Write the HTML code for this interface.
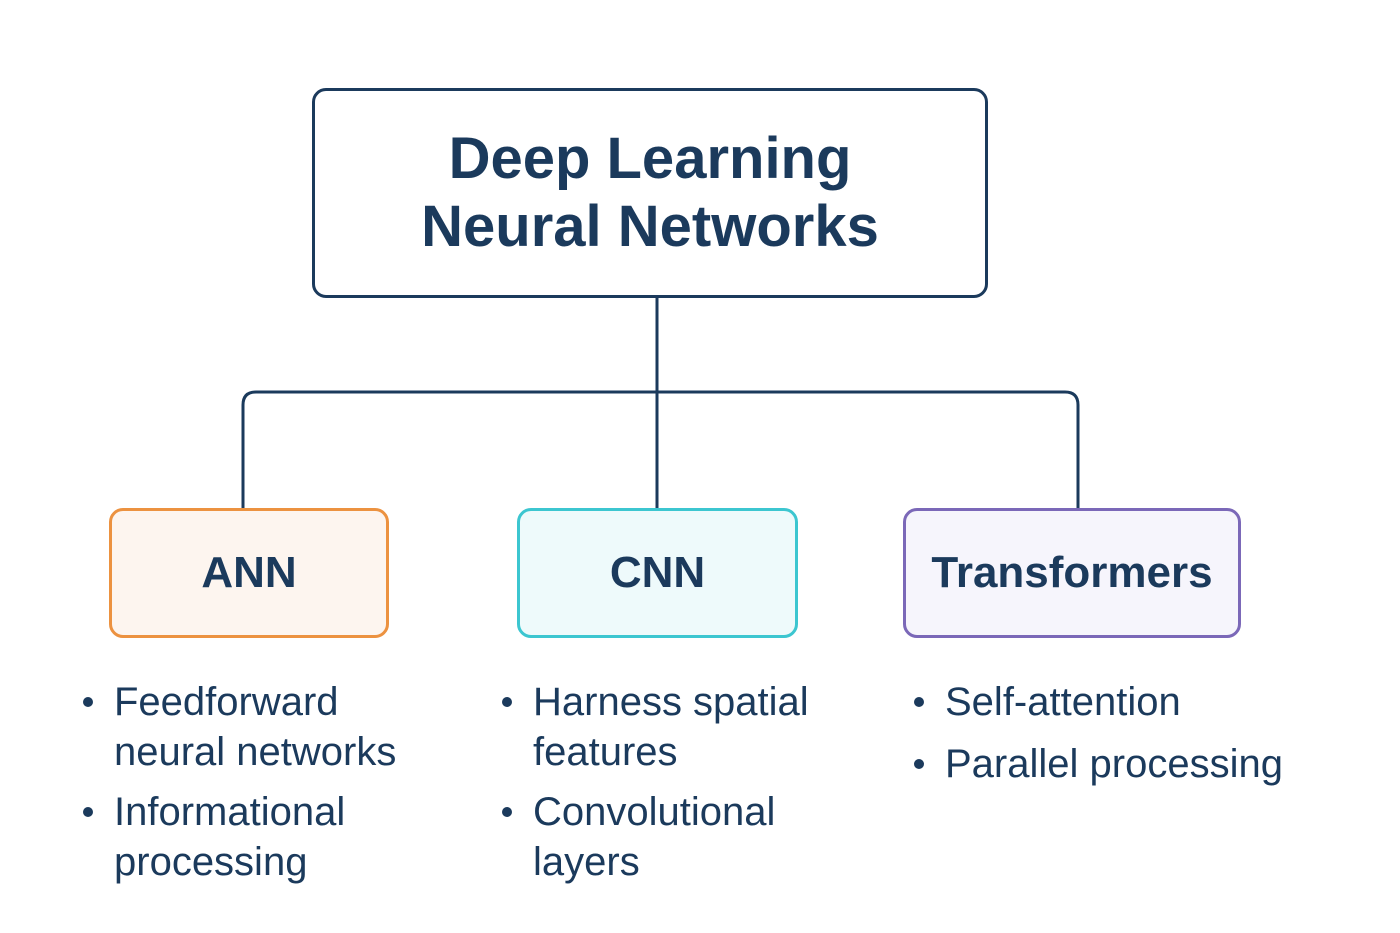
<!DOCTYPE html>
<html><head><style>
body{margin:0;width:1400px;height:933px;background:#fff;position:relative;font-family:"Liberation Sans",sans-serif;color:#1b3a5c;overflow:hidden}
.box{position:absolute;box-sizing:border-box;border-radius:14px;display:flex;align-items:center;justify-content:center;font-weight:bold}
.t{position:absolute;font-size:40px;line-height:50px;white-space:nowrap}
.d{position:absolute;width:10px;height:10px;border-radius:50%;background:#1b3a5c}
</style></head><body>
<svg width="1400" height="933" style="position:absolute;left:0;top:0">
<g fill="none" stroke="#1b3a5c" stroke-width="3">
<path d="M657 297 V508"/>
<path d="M243 508 V405 Q243 392 256 392 H1065 Q1078 392 1078 405 V508"/>
</g></svg>
<div class="box" style="left:312px;top:88px;width:676px;height:210px;border:3px solid #1b3a5c;font-size:58px;line-height:68px;text-align:center;background:#fff">Deep Learning<br>Neural Networks</div>
<div class="box" style="left:109px;top:508px;width:280px;height:130px;border:3px solid #ec9240;background:#fdf5ef;font-size:44px;font-weight:600">ANN</div>
<div class="box" style="left:517px;top:508px;width:281px;height:130px;border:3px solid #3cc6d0;background:#eefafb;font-size:44px;font-weight:600">CNN</div>
<div class="box" style="left:903px;top:508px;width:338px;height:130px;border:3px solid #7b68b8;background:#f6f5fc;font-size:44px;font-weight:600">Transformers</div>

<div class="d" style="left:83px;top:697px"></div>
<div class="t" style="left:114px;top:677px">Feedforward<br>neural networks</div>
<div class="d" style="left:83px;top:807px"></div>
<div class="t" style="left:114px;top:787px">Informational<br>processing</div>

<div class="d" style="left:502px;top:697px"></div>
<div class="t" style="left:533px;top:677px">Harness spatial<br>features</div>
<div class="d" style="left:502px;top:807px"></div>
<div class="t" style="left:533px;top:787px">Convolutional<br>layers</div>

<div class="d" style="left:914px;top:697px"></div>
<div class="t" style="left:945px;top:677px">Self-attention</div>
<div class="d" style="left:914px;top:759px"></div>
<div class="t" style="left:945px;top:739px">Parallel processing</div>
</body></html>
